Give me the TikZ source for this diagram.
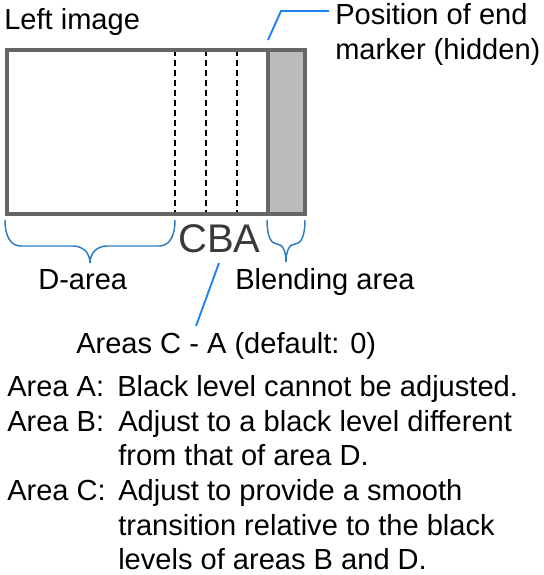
\documentclass[tikz,border=0pt]{standalone}
\usepackage{fontspec}
\setmainfont{Liberation Sans}
\usetikzlibrary{positioning, calc}
\definecolor{framegray}{HTML}{666666}
\definecolor{blendfill}{HTML}{BBBBBD}
\definecolor{markblue}{HTML}{1C82EE}
\definecolor{braceblue}{HTML}{2C7CC6}
\definecolor{cbagray}{HTML}{3A3A3A}
\tikzset{txt/.style={font=\fontsize{21.8}{26}\selectfont, inner sep=0pt, anchor=base west}}
\tikzset{areas/.style={font=\fontsize{30}{36}\selectfont, text=cbagray, inner sep=0pt, anchor=base west}}
\tikzset{imgframe/.style={draw=framegray, line width=3.6pt}}
\tikzset{areacut/.style={line width=1.5pt, dash pattern=on 4.5pt off 3pt}}
\tikzset{marker line/.style={draw=markblue, line width=1.4pt}}
\tikzset{areabrace/.style={draw=braceblue, line width=1.1pt}}

\begin{document}
\begin{tikzpicture}[x=0.75pt, y=-0.75pt]
\useasboundingbox (0,0) rectangle (543,575);

% left image with blending strip
\coordinate (imgNW) at (7,50);
\coordinate (imgSE) at (305,214);
\coordinate (blendN) at (268,50);
\coordinate (blendS) at (268,214);
\fill[blendfill] (blendN) rectangle (imgSE);
\draw[areacut] (175,50) -- (175,214);
\draw[areacut] (206,50) -- (206,214);
\draw[areacut] (237,50) -- (237,214);
\draw[imgframe] (imgNW) rectangle (imgSE);
\draw[imgframe] (blendN) -- (blendS);

\node[txt] (leftimg) at (4,29.5) {Left image};
\node[txt] (endpos) at (335,24) {Position of end};
\node[txt] (endpos2) at (335,59) {marker (hidden)};
\node[areas] (cba) at (178,252) {CBA};
\node[txt] (darea) at (38,289) {D-area};
\node[txt] (blendarea) at (235,289) {Blending area};
\node[txt] (areasCA) at (76,353) {Areas C - A (default: 0)};

% notes
\node[txt] (areaA) at (7,396) {Area A:};
\node[txt] (descA) at (117,396) {Black level cannot be adjusted.};
\node[txt] (areaB) at (7,431) {Area B:};
\node[txt] (descB) at (118,431) {Adjust to a black level different};
\node[txt] (descB2) at (118,465.5) {from that of area D.};
\node[txt] (areaC) at (7,500) {Area C:};
\node[txt] (descC) at (118,500) {Adjust to provide a smooth};
\node[txt] (descC2) at (118,535) {transition relative to the black};
\node[txt] (descC3) at (118,569) {levels of areas B and D.};

% leaders
\coordinate (markfoot) at (268,40);
\coordinate (markknee) at (281,11);
\draw[marker line] (markfoot) -- (markknee) -- ($(markknee -| endpos.west)+(-6,0)$);
\coordinate (cbafoot) at (219,263);
\coordinate (cahead) at (196,326);
\draw[marker line] (cbafoot) -- (cahead);

% braces
\coordinate (dL) at (5,220);
\coordinate (dR) at (175,220);
\coordinate (bL) at (267,220);
\coordinate (bR) at (305,220);
\draw[areabrace] (dL) .. controls (5,237) and (11,246) .. (21,246) -- (73,246)
  .. controls (83,246) and (90,253) .. (90,263) .. controls (90,253) and (97,246) .. (107,246)
  -- (159,246) .. controls (169,246) and (175,237) .. (dR);
\draw[areabrace] (bL) .. controls (267,236) and (271,244) .. (277,244)
  .. controls (283,244) and (286,252) .. (286,262) .. controls (286,252) and (289,244) .. (295,244)
  .. controls (301,244) and (305,236) .. (bR);
\end{tikzpicture}
\end{document}
